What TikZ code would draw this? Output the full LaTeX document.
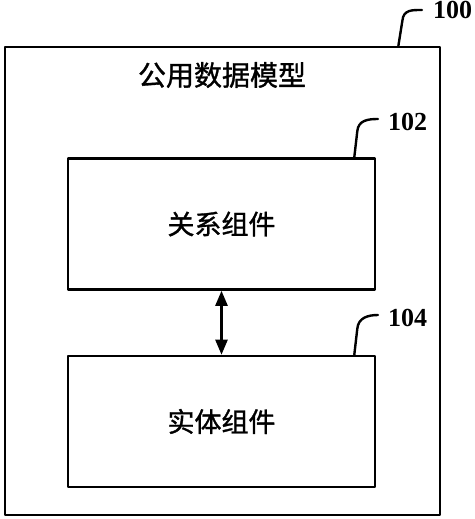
\documentclass[tikz,border=0pt]{standalone}
\usepackage{fontspec}
\newfontfamily\cjk[FakeBold=1.2]{Noto Sans CJK SC}
\newfontfamily\numfont{Liberation Serif}
\usetikzlibrary{arrows.meta,positioning}

\tikzset{
  box/.style={draw,line width=2.6pt,minimum width=307pt,minimum height=131pt,
    font=\cjk\fontsize{27}{30}\selectfont},
  lead/.style={line width=2.4pt},
  num/.style={font=\numfont\bfseries\fontsize{26}{28}\selectfont,inner sep=0pt,anchor=base west}
}

\begin{document}
\begin{tikzpicture}[x=1pt,y=-1pt,line cap=round,line join=round]
  \useasboundingbox (0,0) rectangle (474,519);
  % outer model
  \node[draw,line width=2.8pt,minimum width=435pt,minimum height=468pt] (model) at (222.5,281) {};
  \node[font=\cjk\fontsize{28}{30}\selectfont] (title) at (222,75) {公用数据模型};
  % components
  \node[box] (rel) at (221.5,224) {关系组件};
  \node[box] (ent) at (221.5,421.5) {实体组件};
  \draw[line width=2.4pt,{Triangle[length=15pt,width=12pt]}-{Triangle[length=15pt,width=12pt]}] (rel) -- (ent);
  % reference numbers
  \coordinate (l100) at (422,10);
  \coordinate (l102) at (378,119);
  \coordinate (l104) at (378,315);
  \node[num] (n100) at (433,19) {100};
  \node[num] (n102) at (388,130) {102};
  \node[num] (n104) at (388,326) {104};
  \draw[lead] ([xshift=-43pt]model.north east) -- ++(4,-25) .. controls +(1,-11) and +(-10,0) .. (l100);
  \draw[lead] ([xshift=-22pt]rel.north east) -- ++(3,-26) .. controls +(1,-11) and +(-10,0) .. (l102);
  \draw[lead] ([xshift=-22pt]ent.north east) -- ++(3,-26) .. controls +(1,-11) and +(-10,0) .. (l104);
\end{tikzpicture}
\end{document}
